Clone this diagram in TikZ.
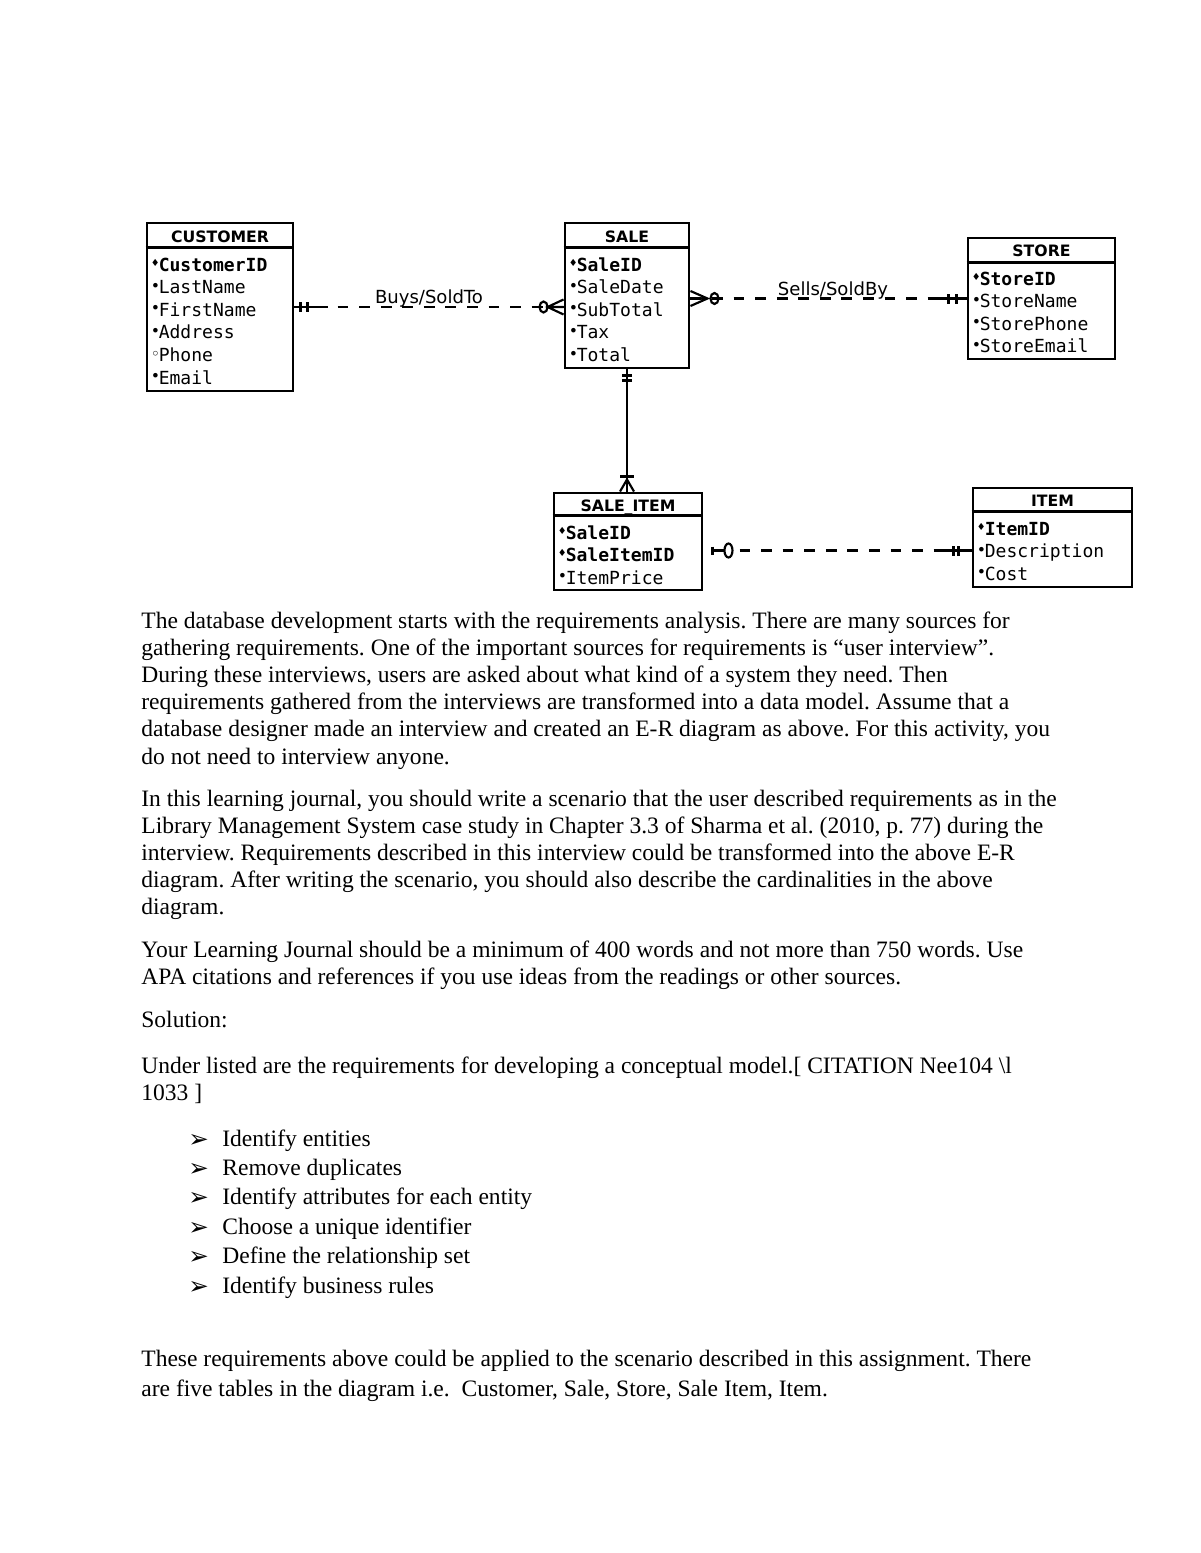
\documentclass[tikz,border=0pt]{standalone}
\usepackage{fontspec}
\setmainfont{Liberation Serif}
\newfontfamily\ermono{DejaVu Sans Mono}
\newfontfamily\ersans{DejaVu Sans}
\usetikzlibrary{calc,fit}
\frenchspacing

% attribute marks
\newcommand\attmark[3]{\makebox[4pt][l]{\raisebox{#2}{\ersans\fontsize{#1}{#1}\selectfont #3}}}
\newcommand\pkatt[1]{\attmark{5}{2.4pt}{♦}\textbf{#1}}
\newcommand\reqatt[1]{\attmark{8}{1.2pt}{•}#1}
\newcommand\optatt[1]{\attmark{8}{1.2pt}{◦}#1}

\tikzset{
  entity/.style={draw, line width=1.5pt, inner sep=0pt},
  headline/.style={line width=1.3pt},
  enthead/.style={font=\ersans\bfseries\fontsize{8}{8}\selectfont, anchor=base, inner sep=0pt},
  attr/.style={font=\ermono\fontsize{9.2}{9.2}\selectfont, anchor=base west, inner sep=0pt},
  rel/.style={line width=1.1pt},
  reldash/.style={rel, dash pattern=on 5.5pt off 5.5pt},
  rellabel/.style={font=\ersans\fontsize{9.2}{9.2}\selectfont, anchor=base, inner sep=0pt},
  bodytext/.style={font=\fontsize{12}{14}\selectfont, anchor=base west, inner sep=0pt},
  % crow's foot ends, drawn with +x pointing away from the entity
  pics/onlyone/.style args={#1/#2/#3}{code={
    \draw[rel] (0,0) -- (#3,0);
    \draw[rel] (#1,-5) -- (#1,5) (#2,-5) -- (#2,5);
  }},
  pics/zeromany/.style args={#1/#2}{code={
    \draw[rel] (0,-7.5) -- (#2,0) -- (0,7.5) (0,0) -- (#2,0);
    \draw[rel] (#1,0) ellipse [x radius=4, y radius=5.5];
  }},
  pics/onemany/.style={code={
    \draw[rel] (0,-7) -- (12,0) -- (0,7);
    \draw[rel] (15,-7) -- (15,7);
  }},
  pics/zeroone/.style={code={
    \draw[rel] (9,-4) -- (9,4) (9,0) -- (21,0);
    \draw[rel] (25,0) ellipse [x radius=4, y radius=7];
  }}
}

\begin{document}
\begin{tikzpicture}[x=0.51pt, y=-0.51pt]
  \fill[white] (0,0) rectangle (1200,1553);
  \useasboundingbox (0,0) rectangle (1200,1553);

  % CUSTOMER
  \node[entity, fit={(147,223) (293,391)}] (customer) {};
  \draw[headline] ($(customer.north west)+(0,26)$) -- ($(customer.north east)+(0,26)$);
  \node[enthead] (customer-title) at ($(customer.north)+(0,20.5)$) {CUSTOMER};
  \foreach \att [count=\i from 0] in {\pkatt{CustomerID}, \reqatt{LastName}, \reqatt{FirstName}, \reqatt{Address}, \optatt{Phone}, \reqatt{Email}}
    \node[attr] (customer-att\i) at ($(customer.north west)+(5,49.5+22.6*\i)$) {\att};

  % SALE
  \node[entity, fit={(565,223) (689,368)}] (sale) {};
  \draw[headline] ($(sale.north west)+(0,26)$) -- ($(sale.north east)+(0,26)$);
  \node[enthead] (sale-title) at ($(sale.north)+(0,20.5)$) {SALE};
  \foreach \att [count=\i from 0] in {\pkatt{SaleID}, \reqatt{SaleDate}, \reqatt{SubTotal}, \reqatt{Tax}, \reqatt{Total}}
    \node[attr] (sale-att\i) at ($(sale.north west)+(5,49.5+22.6*\i)$) {\att};

  % STORE
  \node[entity, fit={(968,238) (1115,359)}] (store) {};
  \draw[headline] ($(store.north west)+(0,26)$) -- ($(store.north east)+(0,26)$);
  \node[enthead] (store-title) at ($(store.north)+(0,19.5)$) {STORE};
  \foreach \att [count=\i from 0] in {\pkatt{StoreID}, \reqatt{StoreName}, \reqatt{StorePhone}, \reqatt{StoreEmail}}
    \node[attr] (store-att\i) at ($(store.north west)+(5,48.5+22.6*\i)$) {\att};

  % SALE_ITEM
  \node[entity, fit={(554,493) (702,590)}] (saleitem) {};
  \draw[headline] ($(saleitem.north west)+(0,24)$) -- ($(saleitem.north east)+(0,24)$);
  \node[enthead] (saleitem-title) at ($(saleitem.north)+(0,19.5)$) {SALE\_ITEM};
  \foreach \att [count=\i from 0] in {\pkatt{SaleID}, \pkatt{SaleItemID}, \reqatt{ItemPrice}}
    \node[attr] (saleitem-att\i) at ($(saleitem.north west)+(5,47.5+22.6*\i)$) {\att};

  % ITEM
  \node[entity, fit={(973,488) (1132,587)}] (item) {};
  \draw[headline] ($(item.north west)+(0,25)$) -- ($(item.north east)+(0,25)$);
  \node[enthead] (item-title) at ($(item.north)+(0,19.5)$) {ITEM};
  \foreach \att [count=\i from 0] in {\pkatt{ItemID}, \reqatt{Description}, \reqatt{Cost}}
    \node[attr] (item-att\i) at ($(item.north west)+(5,48.5+22.6*\i)$) {\att};

  % relationships
  \draw[reldash] (customer.east) -- (customer.east -| sale.west);
  \pic at (customer.east) {onlyone=6/13/34};
  \pic[rotate=180] at (customer.east -| sale.west) {zeromany=20/16};
  \node[rellabel] (buys) at ($(customer.east)!0.5!(customer.east -| sale.west)+(0,-4)$) {Buys/SoldTo};

  \draw[reldash] (store.west -| sale.east) -- (store.west);
  \pic at (store.west -| sale.east) {zeromany=24/17};
  \pic[rotate=180] at (store.west) {onlyone=10/18/31};
  \node[rellabel] (sells) at ($(store.west -| sale.east)!0.5!(store.west)+(4.5,-3.5)$) {Sells/SoldBy};

  \draw[rel] (sale.south) -- (sale.south |- saleitem.north);
  \pic[rotate=-90] at (sale.south) {onlyone=6/11/0};
  \pic[rotate=90] at (sale.south |- saleitem.north) {onemany};

  \coordinate (si-link) at ($(saleitem.east)+(0,9)$);
  \draw[reldash, shorten <=18.4pt] (si-link) -- (si-link -| item.west);
  \pic at (si-link) {zeroone};
  \pic[rotate=180] at (si-link -| item.west) {onlyone=13/18/31};

  % text of the page
  \foreach \ln [count=\i from 0] in {
    {The database development starts with the requirements analysis. There are many sources for},
    {gathering requirements. One of the important sources for requirements is “user interview”.},
    {During these interviews, users are asked about what kind of a system they need. Then},
    {requirements gathered from the interviews are transformed into a data model. Assume that a},
    {database designer made an interview and created an E-R diagram as above. For this activity, you},
    {do not need to interview anyone.}}
    \node[bodytext] (intro-\i) at (141, 628+27.2*\i) {\ln};

  \foreach \ln [count=\i from 0] in {
    {In this learning journal, you should write a scenario that the user described requirements as in the},
    {Library Management System case study in Chapter 3.3 of Sharma et al. (2010, p. 77) during the},
    {interview. Requirements described in this interview could be transformed into the above E-R},
    {diagram. After writing the scenario, you should also describe the cardinalities in the above},
    {diagram.}}
    \node[bodytext] (task-\i) at (141, 806+27.2*\i) {\ln};

  \foreach \ln [count=\i from 0] in {
    {Your Learning Journal should be a minimum of 400 words and not more than 750 words. Use},
    {APA citations and references if you use ideas from the readings or other sources.}}
    \node[bodytext] (words-\i) at (141, 957+27.2*\i) {\ln};

  \node[bodytext] (solution) at (141, 1027) {Solution:};
  \node[bodytext] (under-0) at (141, 1073) {Under listed are the requirements for developing a conceptual model.[ CITATION Nee104 \textbackslash l};
  \node[bodytext] (under-1) at (141, 1100) {1033 ]};

  \foreach \ln [count=\i from 0] in {Identify entities, Remove duplicates, Identify attributes for each entity,
    Choose a unique identifier, Define the relationship set, Identify business rules} {
    \node[bodytext, font=\ersans\fontsize{12.5}{12.5}\selectfont] (step-mark\i) at (188, 1147+29.4*\i) {➢};
    \node[bodytext] (step-\i) at (222, 1146+29.4*\i) {\ln};
  }

  \node[bodytext] (closing-0) at (141, 1366) {These requirements above could be applied to the scenario described in this assignment. There};
  \node[bodytext] (closing-1) at (141, 1396) {are five tables in the diagram i.e.\ \ Customer, Sale, Store, Sale Item, Item.};
\end{tikzpicture}
\end{document}
